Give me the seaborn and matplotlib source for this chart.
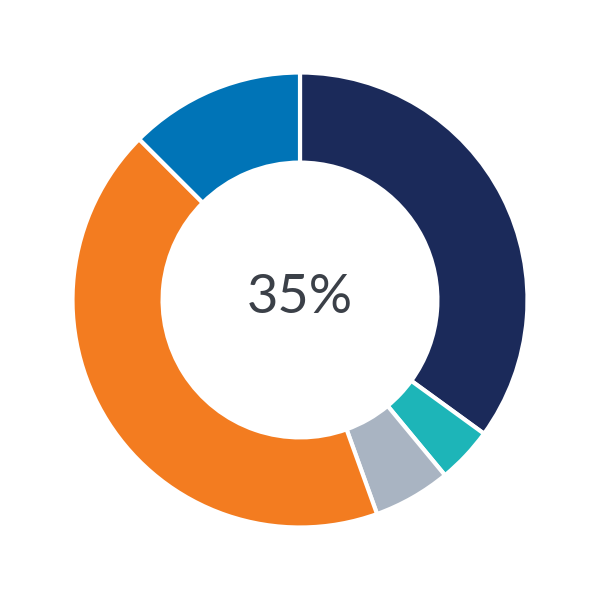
import matplotlib
matplotlib.use("Agg")
import matplotlib.pyplot as plt
import seaborn as sns

labels = ["Navy", "Teal", "Gray", "Orange", "Blue"]
values = [35, 4, 5.5, 43, 12.5]
colors = ["#1B2A5A", "#1DB5B8", "#A9B4C2", "#F37C20", "#0074B7"]
center_label = "35%"

sns.set_theme(style="white")
plt.rcParams['font.family'] = ['Lato', 'DejaVu Sans']

fig = plt.figure(figsize=(6, 6), dpi=100)
ax = fig.add_axes([0, 0, 1, 1])
ax.pie(values, colors=colors, startangle=90, counterclock=False,
       radius=1.0,
       wedgeprops=dict(width=0.396, edgecolor="white", linewidth=3))
lim = 300 / 227.5
ax.set_xlim(-lim, lim)
ax.set_ylim(-lim, lim)
ax.set_aspect("equal")
ax.axis("off")
ax.text(0, 0.01, center_label, ha="center", va="center", fontsize=39,
        fontweight="normal", color="#3B4048")
fig.savefig("out.png", dpi=100)
